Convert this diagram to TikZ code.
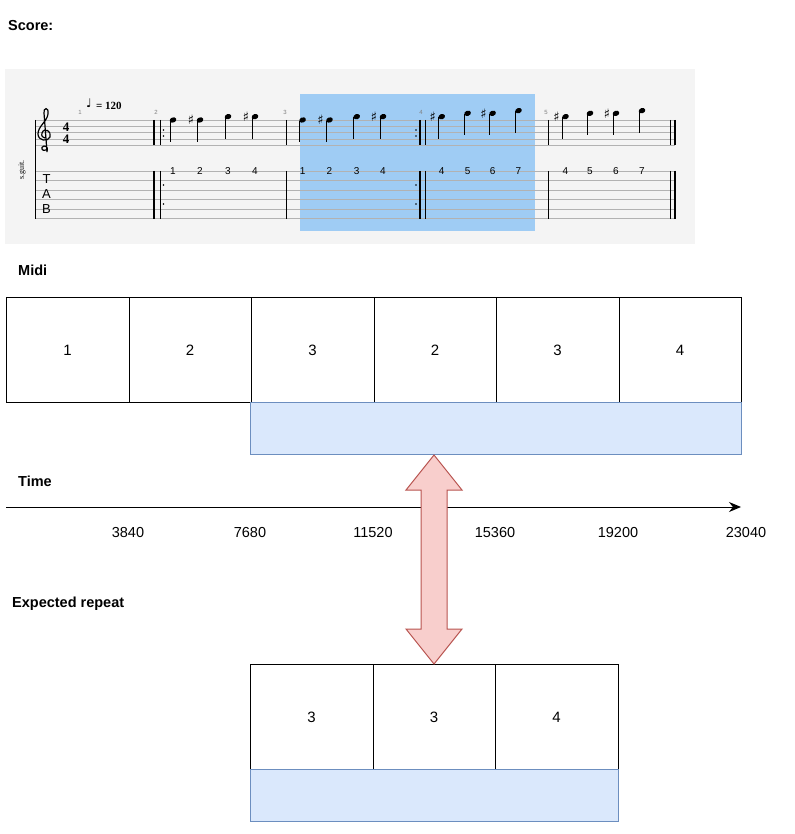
\documentclass[tikz,border=0pt]{standalone}
\usepackage{fontspec}
\usetikzlibrary{arrows.meta}
\setmainfont{Liberation Sans}
\newfontfamily\djv{DejaVu Sans}
\newfontfamily\tms{Liberation Serif}
\begin{document}
\begin{tikzpicture}[x=1pt,y=-1pt,
  cell/.style={draw=black,thick,minimum width=122.5pt,minimum height=105pt,inner sep=0pt,font=\fontsize{15}{17}\selectfont,anchor=north west},
  lbl/.style={font=\bfseries\fontsize{14.5}{17}\selectfont,anchor=west,inner sep=0pt},
  tick/.style={font=\fontsize{14.5}{17}\selectfont,inner sep=0pt},
  staff/.style={draw=gray!60,line width=0.6pt},
  mnum/.style={font=\fontsize{6}{7}\selectfont,text=gray,inner sep=0pt},
  shp/.style={font=\djv\fontsize{13}{14}\selectfont,inner sep=0pt}]
\useasboundingbox (0,0) rectangle (794,834);
\definecolor{lblue}{HTML}{DAE8FC}\definecolor{dblue}{HTML}{6C8EBF}
\definecolor{lred}{HTML}{F8CECC}\definecolor{dred}{HTML}{B85450}
\definecolor{hl}{HTML}{9FCCF4}
\tikzset{bluebar/.style={draw=dblue,fill=lblue,line width=1pt}}
% labels
\node[lbl] (score) at (8,26) {Score:};
\node[lbl] (midi) at (18,270) {Midi};
\node[lbl] (time) at (18,481) {Time};
\node[lbl] (exp) at (12,604) {Expected repeat};
% score image
\fill[gray!9] (5,69) rectangle (695,244);
\fill[hl] (299.5,94) rectangle (535,231);
\foreach \y in {120,126.4,132.7,139,145.3} \draw[staff] (35,\y) -- (675,\y);
\foreach \y in {171,180.5,190,199.5,209,218.7} \draw[staff] (35,\y) -- (675,\y);
\draw[line width=0.6pt] (35,120) -- (35,218.7);
\foreach \x in {286.5,548} {\draw[line width=0.6pt] (\x,120)--(\x,145.3); \draw[line width=0.6pt] (\x,171)--(\x,218.7);}
\foreach \a/\b in {154/160,420/425} {
  \draw[line width=2pt] (\a,120)--(\a,145.3); \draw[line width=0.6pt] (\b,120)--(\b,145.3);
  \draw[line width=2pt] (\a,171)--(\a,218.7); \draw[line width=0.6pt] (\b,171)--(\b,218.7);}
\draw[line width=0.6pt] (670.5,120)--(670.5,145.3) (670.5,171)--(670.5,218.7);
\draw[line width=2pt] (675,120)--(675,145.3) (675,171)--(675,218.7);
\foreach \x in {163.5,416} {\fill (\x,130)circle(0.9) (\x,136)circle(0.9) (\x,185)circle(0.9) (\x,204)circle(0.9);}
% treble clef as shape
\draw[line width=1.2pt] (46,150) .. controls (42,152) and (40,147) .. (44,146)
  .. controls (48,146) and (48,150) .. (47,152) -- (44,113)
  .. controls (43,108) and (49,106) .. (48,114)
  .. controls (47,122) and (38,126) .. (38,134)
  .. controls (38,141) and (48,142) .. (50,137)
  .. controls (52,131) and (44,127) .. (42,133)
  .. controls (41,136) and (43,138) .. (45,138);
\node[font=\tms\bfseries\fontsize{13}{13}\selectfont,inner sep=0pt] (ts1) at (66,127) {4};
\node[font=\tms\bfseries\fontsize{13}{13}\selectfont,inner sep=0pt] (ts2) at (66,139) {4};
\node[font=\djv\fontsize{12}{12}\selectfont,inner sep=0pt] (qn) at (89,103) {♩};
\node[font=\tms\bfseries\fontsize{11}{11}\selectfont,anchor=west,inner sep=0pt] (tempo) at (96,106) {= 120};
\foreach \n/\x in {1/80,2/156,3/285,4/421,5/546} \node[mnum] (mn\n) at (\x,112) {\n};
\node[rotate=90,font=\tms\fontsize{8}{9}\selectfont,inner sep=0pt] (sg) at (22,170) {s.guit.};
\node[font=\fontsize{13}{10}\selectfont,inner sep=0pt] (tT) at (46.5,179) {T};
\node[font=\fontsize{13}{10}\selectfont,inner sep=0pt] (tA) at (46.5,194) {A};
\node[font=\fontsize{13}{10}\selectfont,inner sep=0pt] (tB) at (46.5,209) {B};
% notes x/y/sharp
\foreach \x/\y/\s in {173/120/0,200/120/1,228/116.7/0,255/116.7/1,
  302.6/120/0,329.5/120/1,356.7/116.7/0,383/116.7/1,
  441.7/116.7/1,467.6/113.3/0,492.6/113.3/1,518.5/110.7/0,
  565.5/116.7/1,590/113.3/0,616/113.3/1,642/110.7/0} {
  \fill[rotate around={20:(\x,\y)}] (\x,\y) ellipse (3.4 and 2.6);
  \draw[line width=0.8pt] (\x-3,\y+0.8) -- (\x-3,\y+22);
  \ifnum\s=1 \node[shp] at (\x-9,\y) {♯}; \fi}
\foreach \x/\n in {173/1,200/2,228/3,255/4,302.6/1,329.5/2,356.7/3,383/4,441.7/4,467.6/5,492.6/6,518.5/7,565.5/4,590/5,616/6,642/7}
  \node[font=\fontsize{10}{11}\selectfont,inner sep=0.5pt] at (\x,171) {\n};
% midi row
\foreach \i/\t in {0/1,1/2,2/3,3/2,4/3,5/4} \node[cell] (m\i) at (6+122.5*\i,297) {\t};
\draw[bluebar] (250,402) rectangle (741,454);
% time axis
\coordinate (t0) at (6,507); \coordinate (t1) at (741,507);
\draw[line width=1pt,-{Stealth[length=12pt,width=10pt]}] (t0) -- (t1);
\foreach \x/\t in {128/3840,250/7680,373/11520,495/15360,618/19200,746/23040} \node[tick] at (\x,533) {\t};
% expected repeat
\foreach \i/\t in {0/3,1/3,2/4} \node[cell] (e\i) at (250+122.5*\i,664) {\t};
\draw[bluebar] (250,769) rectangle (618,821);
% double arrow
\draw[draw=dred,fill=lred,line width=1pt] (434,455) -- (462,490) -- (447,490) -- (447,629) -- (462,629) -- (434,664) -- (406,629) -- (421,629) -- (421,490) -- (406,490) -- cycle;
\end{tikzpicture}
\end{document}
